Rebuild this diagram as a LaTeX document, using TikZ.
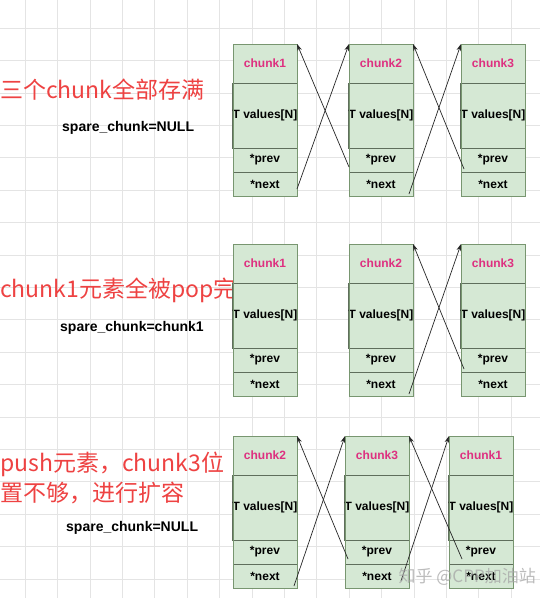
\documentclass[tikz,border=0pt]{standalone}
\usepackage{fontspec}
\setmainfont{Liberation Sans}
\newfontfamily\cjk{Noto Sans CJK SC}
\usetikzlibrary{arrows.meta}
\definecolor{boxfill}{RGB}{213,232,212}
\definecolor{boxline}{RGB}{120,150,112}
\definecolor{divline}{RGB}{95,110,92}
\definecolor{chunkpink}{RGB}{222,48,128}
\definecolor{redtxt}{RGB}{238,66,66}
\definecolor{gridc}{RGB}{228,228,228}
\tikzset{
  secbox/.style={draw=divline, fill=boxfill, line width=0.8pt, minimum width=64pt,
    inner sep=0pt, outer sep=0pt, font=\fontsize{12}{14}\selectfont\bfseries},
  hdrbox/.style={secbox, minimum height=39pt, text=chunkpink},
  valbox/.style={secbox, minimum height=65pt},
  ptrbox/.style={secbox, minimum height=24pt},
  arr/.style={-{Stealth[length=7pt,width=4.5pt]}, line width=0.7pt, draw=black!85},
  redlbl/.style={text=redtxt, font=\cjk\fontsize{23}{30}\selectfont, inner sep=0pt, anchor=west, align=left},
  sparelbl/.style={font=\fontsize{14}{16}\selectfont\bfseries, inner sep=0pt, anchor=west},
}
\newcommand\chunkbox[4]{%
  \node[hdrbox, anchor=north west] (#1h) at (#2,#3) {#4};
  \node[valbox, anchor=north] (#1v) at (#1h.south) {T values[N]};
  \node[ptrbox, anchor=north] (#1p) at (#1v.south) {*prev};
  \node[ptrbox, anchor=north] (#1n) at (#1p.south) {*next};
  \draw[boxline, line width=0.8pt] (#1h.north west) rectangle (#1n.south east);
}
\begin{document}
\begin{tikzpicture}[x=1pt,y=-1pt]
\useasboundingbox (0,0) rectangle (540,598);
\fill[white] (0,0) rectangle (540,598);
% grid
\foreach \k in {0,...,17} {
  \draw[gridc, line width=0.6pt] ({-7.4+32.4*\k},0) -- ({-7.4+32.4*\k},598);
}
\foreach \k in {0,...,19} {
  \draw[gridc, line width=0.6pt] (0,{-4.4+32.4*\k}) -- (540,{-4.4+32.4*\k});
}
% row 1
\node[redlbl] (t1) at (0,90) {三个chunk全部存满};
\node[sparelbl] (s1) at (62,128) {spare\_chunk=NULL};
\chunkbox{a}{233}{44}{chunk1}
\chunkbox{b}{349}{44}{chunk2}
\chunkbox{c}{461}{44}{chunk3}
\draw[arr] ([yshift=-5pt]an.east) -- (bh.north west);
\draw[arr] ([yshift=-7pt]bp.west) -- (ah.north east);
\draw[arr] ([xshift=-4pt,yshift=-10pt]bn.east) -- (ch.north west);
\draw[arr] ([xshift=3pt,yshift=-9pt]cp.west) -- (bh.north east);
% row 2
\node[redlbl] (t2) at (0,290) {chunk1元素全被pop完};
\node[sparelbl] (s2) at (60,328) {spare\_chunk=chunk1};
\chunkbox{d}{233}{244}{chunk1}
\chunkbox{e}{349}{244}{chunk2}
\chunkbox{f}{461}{244}{chunk3}
\draw[arr] ([xshift=-4pt,yshift=-10pt]en.east) -- (fh.north west);
\draw[arr] ([xshift=3pt,yshift=-9pt]fp.west) -- (eh.north east);
% row 3
\node[redlbl] (t3) at (0,478) {push元素，chunk3位\\置不够，进行扩容};
\node[sparelbl] (s3) at (66,528) {spare\_chunk=NULL};
\chunkbox{g}{233}{436}{chunk2}
\chunkbox{h}{345}{436}{chunk3}
\chunkbox{i}{449}{436}{chunk1}
\draw[arr] ([xshift=-3pt,yshift=-10pt]gn.east) -- (hh.north west);
\draw[arr] ([xshift=3pt,yshift=-7pt]hp.west) -- (gh.north east);
\draw[arr] ([xshift=-8pt,yshift=-5pt]hn.east) -- (ih.north west);
\draw[arr] ([xshift=13pt,yshift=-7pt]ip.west) -- (hh.north east);
% watermark
\node[text=gray!70, opacity=0.75, font=\cjk\fontsize{17}{20}\selectfont, inner sep=0pt, anchor=east] (wm) at (536,577) {知乎 @CPP加油站};
\end{tikzpicture}
\end{document}
